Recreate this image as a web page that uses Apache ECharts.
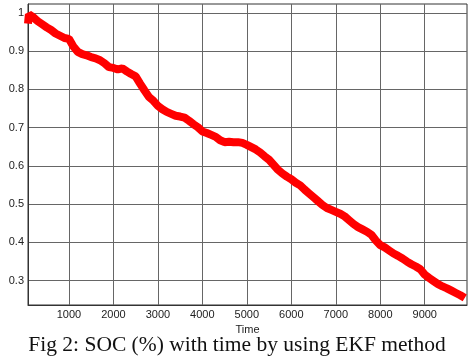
<!DOCTYPE html>
<html>
<head>
<meta charset="utf-8">
<script src="https://cdn.jsdelivr.net/npm/echarts@6/dist/echarts.min.js"></script>
<style>
html,body{margin:0;padding:0;background:#fff;}
#c{width:474px;height:364px;}
</style>
</head>
<body>
<div id="c"></div>
<script>
// Data
const timeValues = [80, 100, 200, 300, 400, 500, 600, 700, 800, 900,
  1000, 1100, 1200, 1300, 1400, 1500, 1600, 1700, 1800, 1900,
  2000, 2100, 2200, 2300, 2400, 2500, 2600, 2700, 2800, 2900,
  3000, 3100, 3200, 3300, 3400, 3500, 3600, 3700, 3800, 3900,
  4000, 4100, 4200, 4300, 4400, 4500, 4600, 4700, 4800, 4900,
  5000, 5100, 5200, 5300, 5400, 5500, 5600, 5700, 5800, 5900,
  6000, 6100, 6200, 6300, 6400, 6500, 6600, 6700, 6800, 6900,
  7000, 7100, 7200, 7300, 7400, 7500, 7600, 7700, 7800, 7900,
  8000, 8100, 8200, 8300, 8400, 8500, 8600, 8700, 8800, 8900,
  9000, 9100, 9200, 9300, 9400, 9500, 9600, 9700, 9800, 9900];
const socValues = [0.972, 0.996, 0.988, 0.978, 0.970, 0.962, 0.955, 0.946, 0.940, 0.934,
  0.932, 0.912, 0.898, 0.892, 0.889, 0.884, 0.881, 0.876, 0.868, 0.858,
  0.856, 0.852, 0.855, 0.847, 0.840, 0.834, 0.815, 0.797, 0.780, 0.770,
  0.757, 0.748, 0.741, 0.736, 0.731, 0.729, 0.726, 0.718, 0.709, 0.701,
  0.690, 0.686, 0.681, 0.676, 0.667, 0.662, 0.663, 0.662, 0.662, 0.660,
  0.655, 0.649, 0.643, 0.635, 0.625, 0.616, 0.603, 0.590, 0.580, 0.572,
  0.565, 0.556, 0.549, 0.538, 0.528, 0.518, 0.508, 0.498, 0.490, 0.485,
  0.480, 0.475, 0.468, 0.458, 0.448, 0.440, 0.434, 0.428, 0.420, 0.405,
  0.393, 0.387, 0.379, 0.371, 0.365, 0.358, 0.350, 0.343, 0.337, 0.330,
  0.316, 0.307, 0.299, 0.291, 0.285, 0.280, 0.274, 0.268, 0.262, 0.255];
const xTicks = [1000, 2000, 3000, 4000, 5000, 6000, 7000, 8000, 9000];
const yTicks = [0.3, 0.4, 0.5, 0.6, 0.7, 0.8, 0.9, 1];
const captionText = 'Fig 2: SOC (%) with time by using EKF method';

const seriesData = timeValues.map((t, i) => [t, socValues[i]]);
const chart = echarts.init(document.getElementById('c'), null, {renderer: 'canvas'});
const labelStyle = {color: '#222', fontFamily: 'Liberation Sans, Arial, sans-serif', fontSize: 11};
chart.setOption({
  animation: false,
  backgroundColor: '#fff',
  grid: {left: 28, right: 7, top: 4, bottom: 59, show: true, borderColor: '#333', borderWidth: 1,
         containLabel: false, outerBoundsMode: 'none'},
  xAxis: {
    type: 'value', min: 80, max: 9950,
    name: 'Time', nameLocation: 'middle', nameGap: 18,
    nameTextStyle: labelStyle,
    axisLine: {show: true, onZero: false, lineStyle: {color: '#333'}},
    axisTick: {show: false, customValues: xTicks},
    axisLabel: Object.assign({customValues: xTicks, margin: 4, formatter: v => String(v)}, labelStyle),
    splitLine: {show: true, lineStyle: {color: '#666', width: 1}}
  },
  yAxis: {
    type: 'value', min: 0.2365, max: 1.023,
    name: 'SOC %', nameLocation: 'middle', nameGap: 20, nameRotate: 90,
    nameTextStyle: labelStyle,
    axisLine: {show: true, lineStyle: {color: '#333'}},
    axisTick: {show: false, customValues: yTicks},
    axisLabel: Object.assign({customValues: yTicks, margin: 4, formatter: v => String(Math.round(v * 10) / 10)}, labelStyle),
    splitLine: {show: true, lineStyle: {color: '#666', width: 1}}
  },
  series: [{
    type: 'line', data: seriesData, showSymbol: false, symbol: 'none',
    lineStyle: {color: '#ff0000', width: 8, join: 'bevel'},
    clip: true
  }],
  graphic: [{
    type: 'text', left: 'center', top: 334,
    style: {text: captionText, fill: '#111', font: '21.5px "Liberation Serif", "Times New Roman", serif'}
  }]
});
</script>
</body>
</html>
